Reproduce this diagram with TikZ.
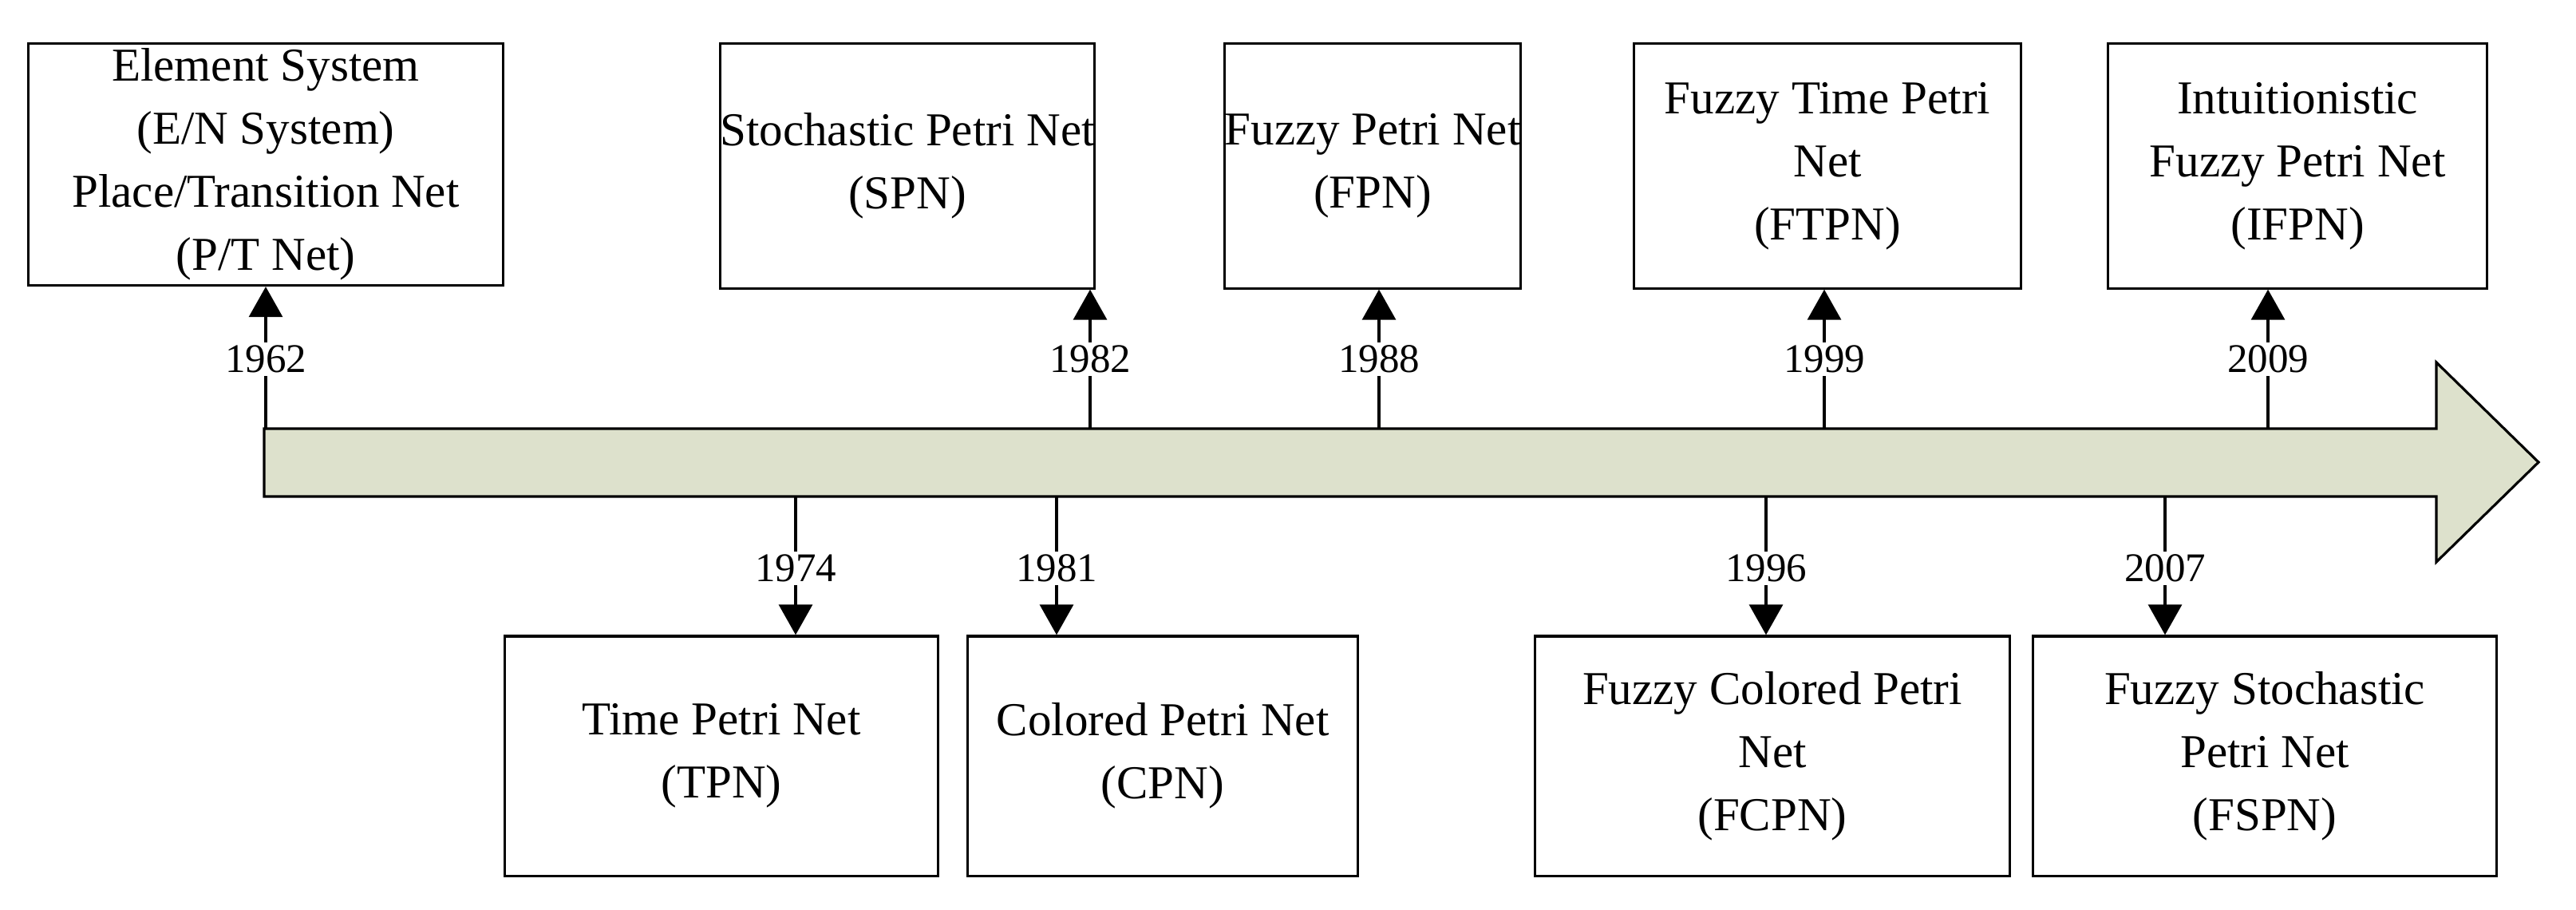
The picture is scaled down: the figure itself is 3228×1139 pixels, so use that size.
\documentclass[tikz,border=0pt]{standalone}
\usepackage{fontspec}
\setmainfont{Liberation Serif}
\usetikzlibrary{arrows.meta}
\definecolor{barfill}{RGB}{221,225,204}
\tikzset{
  netbox/.style={draw, line width=0.9pt, align=center, font=\fontsize{16.8}{22.5}\selectfont,
    inner sep=0pt},
  yearlbl/.style={font=\fontsize{14.5}{16}\selectfont, inner sep=1pt},
  tick/.style={line width=0.9pt},
  pointer/.style={line width=0.9pt, -{Triangle[length=0.38cm,width=0.42cm]}}
}
\begin{document}
\begin{tikzpicture}[x=0.01cm,y=-0.01cm]
\useasboundingbox (0,0) rectangle (3228,1139);
% the time line
\draw[line width=0.9pt, fill=barfill] (331,537) -- (3053,537) -- (3053,454) -- (3181,579)
  -- (3053,704) -- (3053,622) -- (331,622) -- cycle;

% ---------- boxes above the line
\node[netbox, minimum width=5.94cm, minimum height=3.03cm] (pt) at (333,206)
  {Element System\\(E/N System)\\Place/Transition Net\\(P/T Net)};
\node[netbox, minimum width=3.62cm, minimum height=3.06cm] (spn) at (1137,208) {Stochastic Petri Net\\(SPN)};
\node[netbox, minimum width=3.47cm, minimum height=3.06cm] (fpn) at (1720,208) {Fuzzy Petri Net\\(FPN)};
\node[netbox, minimum width=4.85cm, minimum height=3.06cm] (ftpn) at (2290,208) {Fuzzy Time Petri\\Net\\(FTPN)};
\node[netbox, minimum width=4.75cm, minimum height=3.06cm] (ifpn) at (2879,208) {Intuitionistic\\Fuzzy Petri Net\\(IFPN)};

% ---------- boxes below the line
\node[netbox, minimum width=5.42cm, minimum height=3cm] (tpn) at (904,947) {Time Petri Net\\(TPN)};
\node[netbox, minimum width=4.88cm, minimum height=3cm] (cpn) at (1457,947) {Colored Petri Net\\(CPN)};
\node[netbox, minimum width=5.94cm, minimum height=3cm] (fcpn) at (2221,947) {Fuzzy Colored Petri\\Net\\(FCPN)};
\node[netbox, minimum width=5.8cm, minimum height=3cm] (fspn) at (2838,947) {Fuzzy Stochastic\\Petri Net\\(FSPN)};

% ---------- years above
\foreach \yr/\xx/\bx in {1962/333/pt, 1982/1366/spn, 1988/1728/fpn, 1999/2286/ftpn, 2009/2842/ifpn}{
  \node[yearlbl] (y\yr) at (\xx,450) {\yr};
  \coordinate (t\yr) at (\xx,537);
  \draw[tick] (t\yr) -- (y\yr.south);
  \draw[pointer] (y\yr.north) -- (\bx.south -| y\yr);
}
% ---------- years below
\foreach \yr/\xx/\bx in {1974/997/tpn, 1981/1324/cpn, 1996/2213/fcpn, 2007/2713/fspn}{
  \node[yearlbl] (y\yr) at (\xx,712) {\yr};
  \coordinate (t\yr) at (\xx,622);
  \draw[tick] (t\yr) -- (y\yr.north);
  \draw[pointer] (y\yr.south) -- (\bx.north -| y\yr);
}
\end{tikzpicture}
\end{document}
